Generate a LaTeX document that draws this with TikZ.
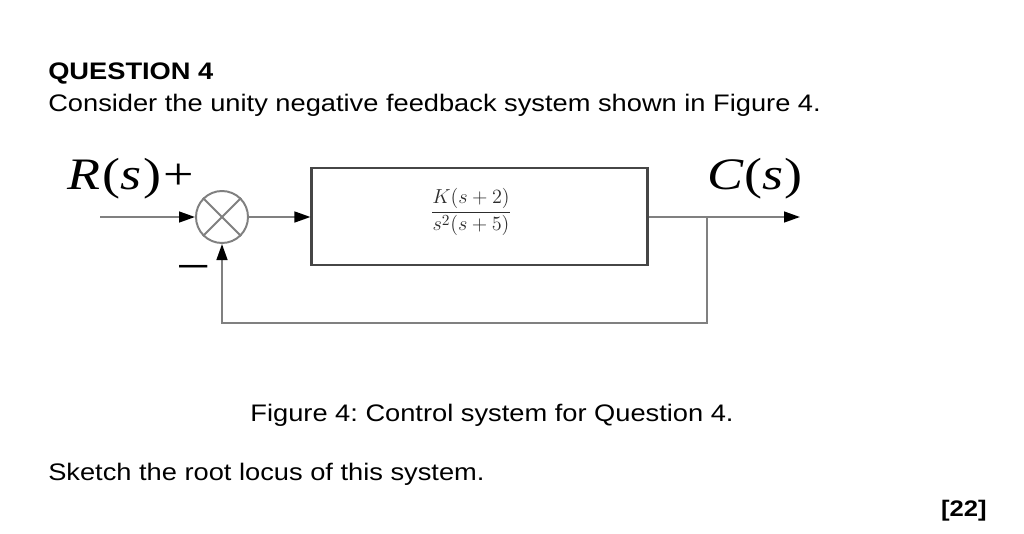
\documentclass[tikz,border=0pt]{standalone}
\usepackage{amsmath}
\usepackage{fontspec}
\setmainfont[FakeStretch=1.14]{Liberation Sans}
\newfontfamily\timesfont[FakeStretch=1.2]{Liberation Serif}
\usepackage{tikz}
\usetikzlibrary{arrows.meta,positioning}
\usepackage{xcolor}
\definecolor{wiregray}{RGB}{128,128,128}
\definecolor{boxgray}{RGB}{70,70,70}
\definecolor{tfgray}{RGB}{45,45,45}
\tikzstyle{sig} = [line width=1.4pt,color=wiregray,-{Triangle[length=0.4cm,width=0.27cm,color=black]}]
\tikzstyle{wire} = [line width=1.4pt,color=wiregray]
\tikzstyle{txt} = [inner sep=0pt,anchor=base west,font=\fontsize{17}{20}\selectfont]
\tikzstyle{sig label} = [inner sep=0pt,anchor=base west,font=\timesfont\fontsize{32}{34}\selectfont]
\frenchspacing

\begin{document}
\begin{tikzpicture}[x=0.025cm,y=-0.025cm]
\useasboundingbox[fill=white] (0,0) rectangle (1024,533);

% Question text
\node[txt,font=\fontsize{17}{20}\selectfont\bfseries] (title) at (48,79) {QUESTION 4};
\node[txt] (intro) at (48,111.7) {Consider the unity negative feedback system shown in Figure 4.};

% Block diagram
\node[circle,draw=wiregray,line width=1.4pt,minimum size=1.3cm,inner sep=0pt] (sum) at (222,217) {};
\draw[wire] (sum.north west) -- (sum.south east)
    (sum.north east) -- (sum.south west);
\node[draw=boxgray,line width=2.1pt,minimum width=8.375cm,minimum height=2.425cm] (plant) at (479.5,216.5) {};
\node[text=tfgray,font=\fontsize{15.6}{18}\selectfont] (tf) at (471,212)
    {$\dfrac{K(s+2)}{s^2(s+5)}$};

\coordinate (in) at (100,217);
\coordinate (out) at (800,217);
\coordinate (branch) at (707,217);

\draw[sig] (in) -- (sum.west);
\draw[sig] (sum.east) -- (plant.west |- sum.east);
\draw[sig] (plant.east |- out) -- (out);
\draw[sig] (branch) -- ++(0,106) -| (sum.south);

% Signal labels
\node[sig label] (r) at (67,189) {\textit{R}\kern1.5pt(\textit{s}\kern1.5pt)\kern1.5pt+};
\node[sig label] (c) at (707,189) {\textit{C}\kern0.5pt(\textit{s}\kern0.5pt)};
\node[inner sep=0pt,font=\timesfont\fontsize{36}{36}\selectfont] (minus) at (193.5,274) {−};

% Caption and task
\node[txt,anchor=base] (caption) at (492,421.5) {Figure 4: Control system for Question 4.};
\node[txt] (task) at (48,480) {Sketch the root locus of this system.};
\node[txt,anchor=base east,font=\fontsize{16}{20}\selectfont\bfseries] (marks) at (987,516.7) {[22]};
\end{tikzpicture}
\end{document}
